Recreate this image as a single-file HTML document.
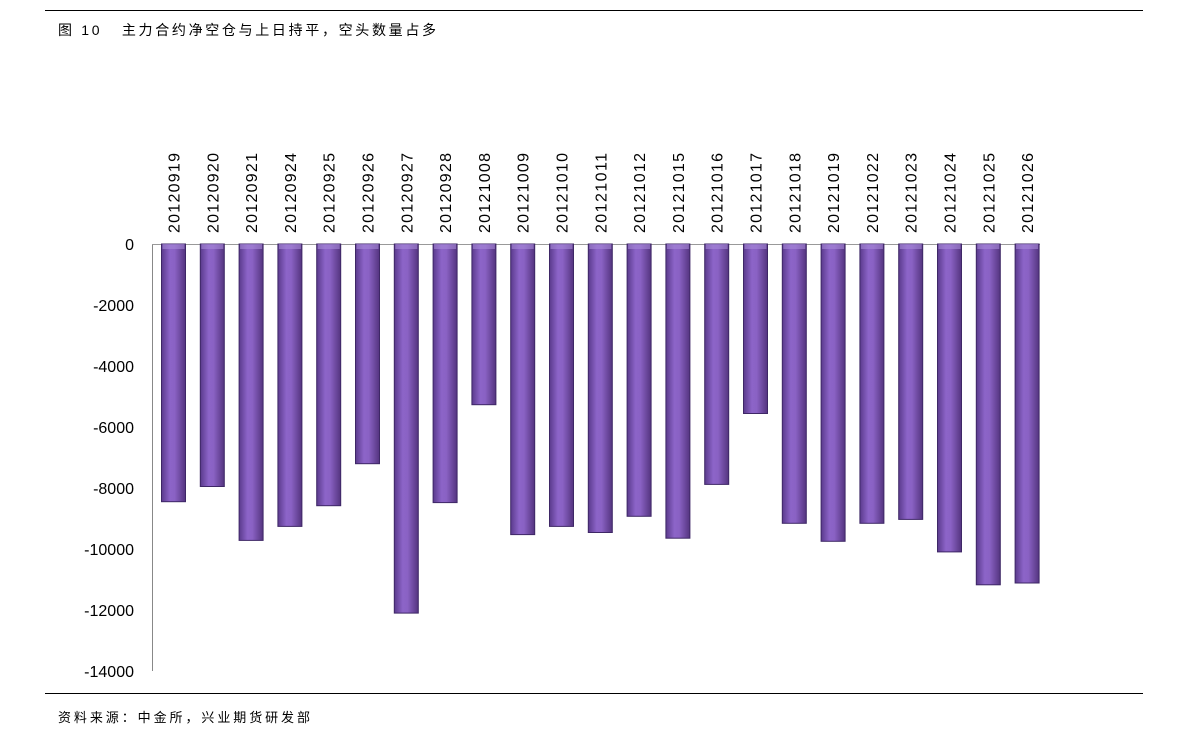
<!DOCTYPE html>
<html><head><meta charset="utf-8"><style>
body{margin:0;background:#fff;width:1190px;height:747px;overflow:hidden}
svg{display:block}
text{font-family:"Liberation Sans","Noto Sans CJK SC",sans-serif}
.b{fill:url(#g);stroke:#3e2766;stroke-width:1}
.t{fill:#a88ad8;opacity:0.6}
</style></head><body>
<svg width="1190" height="747" xmlns="http://www.w3.org/2000/svg">
<defs>
<linearGradient id="g" x1="0" x2="1" y1="0" y2="0">
<stop offset="0" stop-color="#5a3a8c"/>
<stop offset="0.35" stop-color="#8c64c8"/>
<stop offset="0.55" stop-color="#8a62c4"/>
<stop offset="1" stop-color="#54347f"/>
</linearGradient>
</defs>
<line x1="45" y1="10.5" x2="1143" y2="10.5" stroke="#000" stroke-width="1"/>
<text x="58" y="35" font-size="14" fill="#000" textLength="378">图 10&#160;&#160;&#160;主力合约净空仓与上日持平，空头数量占多</text>
<line x1="45" y1="693.5" x2="1143" y2="693.5" stroke="#000" stroke-width="1"/>
<text x="58" y="722" font-size="13" fill="#000" textLength="252">资料来源：中金所，兴业期货研发部</text>
<line x1="152.5" y1="244" x2="152.5" y2="671" stroke="#888"/>
<line x1="152" y1="244.5" x2="1040" y2="244.5" stroke="#999"/>
<g font-size="16" fill="#000" text-anchor="end">
<text x="134" y="250">0</text>
<text x="134" y="311">-2000</text>
<text x="134" y="372">-4000</text>
<text x="134" y="433">-6000</text>
<text x="134" y="494">-8000</text>
<text x="134" y="555">-10000</text>
<text x="134" y="616">-12000</text>
<text x="134" y="677">-14000</text>
</g>
<g font-size="16" fill="#000">
<g transform="translate(173.5,0)"><rect class="b" x="-12" y="244" width="24" height="257.7"/><rect class="t" x="-11" y="244" width="22" height="5"/><text transform="translate(6,233) rotate(-90)" textLength="80">20120919</text></g>
<g transform="translate(212.3,0)"><rect class="b" x="-12" y="244" width="24" height="242.5"/><rect class="t" x="-11" y="244" width="22" height="5"/><text transform="translate(6,233) rotate(-90)" textLength="80">20120920</text></g>
<g transform="translate(251.1,0)"><rect class="b" x="-12" y="244" width="24" height="296.4"/><rect class="t" x="-11" y="244" width="22" height="5"/><text transform="translate(6,233) rotate(-90)" textLength="80">20120921</text></g>
<g transform="translate(289.9,0)"><rect class="b" x="-12" y="244" width="24" height="282.4"/><rect class="t" x="-11" y="244" width="22" height="5"/><text transform="translate(6,233) rotate(-90)" textLength="80">20120924</text></g>
<g transform="translate(328.7,0)"><rect class="b" x="-12" y="244" width="24" height="261.7"/><rect class="t" x="-11" y="244" width="22" height="5"/><text transform="translate(6,233) rotate(-90)" textLength="80">20120925</text></g>
<g transform="translate(367.5,0)"><rect class="b" x="-12" y="244" width="24" height="219.7"/><rect class="t" x="-11" y="244" width="22" height="5"/><text transform="translate(6,233) rotate(-90)" textLength="80">20120926</text></g>
<g transform="translate(406.3,0)"><rect class="b" x="-12" y="244" width="24" height="369.1"/><rect class="t" x="-11" y="244" width="22" height="5"/><text transform="translate(6,233) rotate(-90)" textLength="80">20120927</text></g>
<g transform="translate(445.1,0)"><rect class="b" x="-12" y="244" width="24" height="258.6"/><rect class="t" x="-11" y="244" width="22" height="5"/><text transform="translate(6,233) rotate(-90)" textLength="80">20120928</text></g>
<g transform="translate(483.9,0)"><rect class="b" x="-12" y="244" width="24" height="160.7"/><rect class="t" x="-11" y="244" width="22" height="5"/><text transform="translate(6,233) rotate(-90)" textLength="80">20121008</text></g>
<g transform="translate(522.7,0)"><rect class="b" x="-12" y="244" width="24" height="290.6"/><rect class="t" x="-11" y="244" width="22" height="5"/><text transform="translate(6,233) rotate(-90)" textLength="80">20121009</text></g>
<g transform="translate(561.5,0)"><rect class="b" x="-12" y="244" width="24" height="282.4"/><rect class="t" x="-11" y="244" width="22" height="5"/><text transform="translate(6,233) rotate(-90)" textLength="80">20121010</text></g>
<g transform="translate(600.3,0)"><rect class="b" x="-12" y="244" width="24" height="288.5"/><rect class="t" x="-11" y="244" width="22" height="5"/><text transform="translate(6,233) rotate(-90)" textLength="80">20121011</text></g>
<g transform="translate(639.1,0)"><rect class="b" x="-12" y="244" width="24" height="272.3"/><rect class="t" x="-11" y="244" width="22" height="5"/><text transform="translate(6,233) rotate(-90)" textLength="80">20121012</text></g>
<g transform="translate(677.9,0)"><rect class="b" x="-12" y="244" width="24" height="294.2"/><rect class="t" x="-11" y="244" width="22" height="5"/><text transform="translate(6,233) rotate(-90)" textLength="80">20121015</text></g>
<g transform="translate(716.7,0)"><rect class="b" x="-12" y="244" width="24" height="240.4"/><rect class="t" x="-11" y="244" width="22" height="5"/><text transform="translate(6,233) rotate(-90)" textLength="80">20121016</text></g>
<g transform="translate(755.5,0)"><rect class="b" x="-12" y="244" width="24" height="169.5"/><rect class="t" x="-11" y="244" width="22" height="5"/><text transform="translate(6,233) rotate(-90)" textLength="80">20121017</text></g>
<g transform="translate(794.3,0)"><rect class="b" x="-12" y="244" width="24" height="279.3"/><rect class="t" x="-11" y="244" width="22" height="5"/><text transform="translate(6,233) rotate(-90)" textLength="80">20121018</text></g>
<g transform="translate(833.1,0)"><rect class="b" x="-12" y="244" width="24" height="297.3"/><rect class="t" x="-11" y="244" width="22" height="5"/><text transform="translate(6,233) rotate(-90)" textLength="80">20121019</text></g>
<g transform="translate(871.9,0)"><rect class="b" x="-12" y="244" width="24" height="279.3"/><rect class="t" x="-11" y="244" width="22" height="5"/><text transform="translate(6,233) rotate(-90)" textLength="80">20121022</text></g>
<g transform="translate(910.7,0)"><rect class="b" x="-12" y="244" width="24" height="275.4"/><rect class="t" x="-11" y="244" width="22" height="5"/><text transform="translate(6,233) rotate(-90)" textLength="80">20121023</text></g>
<g transform="translate(949.5,0)"><rect class="b" x="-12" y="244" width="24" height="307.9"/><rect class="t" x="-11" y="244" width="22" height="5"/><text transform="translate(6,233) rotate(-90)" textLength="80">20121024</text></g>
<g transform="translate(988.3,0)"><rect class="b" x="-12" y="244" width="24" height="340.8"/><rect class="t" x="-11" y="244" width="22" height="5"/><text transform="translate(6,233) rotate(-90)" textLength="80">20121025</text></g>
<g transform="translate(1027.1,0)"><rect class="b" x="-12" y="244" width="24" height="339.0"/><rect class="t" x="-11" y="244" width="22" height="5"/><text transform="translate(6,233) rotate(-90)" textLength="80">20121026</text></g>
</g>
</svg>
</body></html>
